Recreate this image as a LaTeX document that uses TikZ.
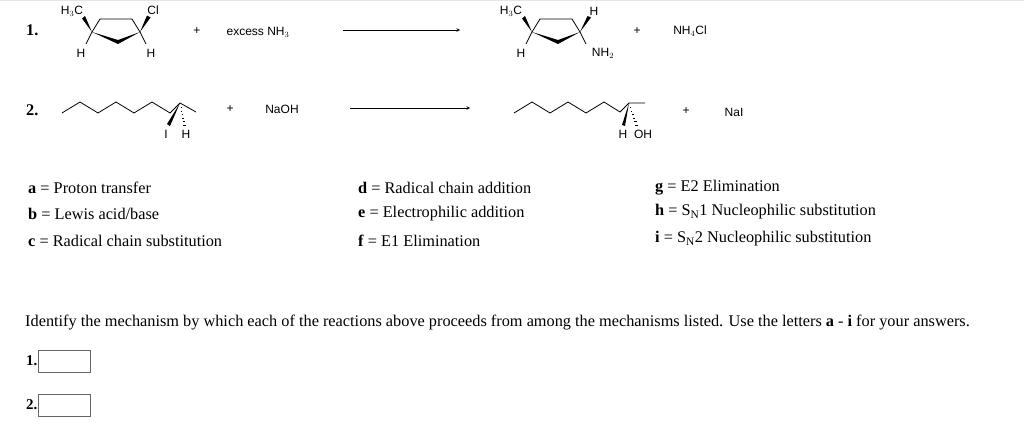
\documentclass[tikz,border=0pt]{standalone}
\usepackage{fontspec}
\setmainfont{Liberation Serif}
\setsansfont{Liberation Sans}
\usetikzlibrary{calc}
\begin{document}
\begin{tikzpicture}[x=1pt,y=-1pt,
  lab/.style={font=\sffamily\fontsize{12}{14}\selectfont,inner sep=0.5pt},
  txt/.style={font=\fontsize{16.3}{18}\selectfont,anchor=west,inner sep=0},
  bnd/.style={line width=0.8pt},
  box/.style={draw=black!60,minimum width=52pt,minimum height=22pt,inner sep=0}]
\useasboundingbox (0,0) rectangle (1024,439);
\draw[black!10] (0,0.5)--(1024,0.5);
% ---- reaction 1
\node[txt,font=\bfseries\fontsize{16.3}{18}\selectfont] (n1) at (26,30) {1.};
\foreach \dx/\nm in {0/a,440/b}{
 \coordinate (\nm L) at (92+\dx,32); \coordinate (\nm TL) at (100+\dx,19);
 \coordinate (\nm TR) at (132+\dx,19); \coordinate (\nm R) at (140+\dx,32);
 \coordinate (\nm B) at (118+\dx,42);
 \draw[bnd] (\nm L)--(\nm TL)--(\nm TR)--(\nm R);
 \fill (\nm L)--($(\nm B)+(0,-2)$)--($(\nm B)+(0,2)$)--cycle;
 \fill (\nm R)--($(\nm B)+(0,-2)$)--($(\nm B)+(0,2)$)--cycle;
 \fill (\nm L)--(82+\dx,18.5)--(85+\dx,16)--cycle;
 \draw[bnd] (\nm L)--(86+\dx,44);
}
\node[lab] (ch3a) at (72,11) {H$_3$C};
\node[lab] (cla) at (153,10) {Cl};
\fill (aR)--(147,15.5)--(150.5,17.5)--cycle;
\draw[bnd] (aR)--(146,44);
\node[lab] (ha1) at (81,53) {H};
\node[lab] (ha2) at (151,53) {H};
\node[lab] (p1) at (197,31) {+};
\node[lab] (nh3) at (258,32) {excess NH$_3$};
\coordinate (r1s) at (343,30); \coordinate (r1e) at (460,30);
\draw[-stealth,line width=0.6pt] (r1s)--(r1e);
\node[lab] (ch3b) at (511,11) {H$_3$C};
\node[lab] (hb0) at (594,11) {H};
\fill (bR)--(587.5,16)--(591,17.5)--cycle;
\draw[bnd] (bR)--(586,44);
\node[lab] (hb1) at (521,53) {H};
\node[lab] (nh2) at (603,53) {NH$_2$};
\node[lab] (p2) at (637,31) {+};
\node[lab] (nh4) at (690,31) {NH$_4$Cl};
% ---- reaction 2
\node[txt,font=\bfseries\fontsize{16.3}{18}\selectfont] (n2) at (26,110) {2.};
\draw[bnd] (62,113)--(80,102)--(98,113)--(116,102)--(134,113)--(152,102)--(170,113)--(180,103)--(196,112);
\coordinate (sa) at (180,103);
\fill (sa)--(167,124)--(170,126)--cycle;
\foreach \t in {0.2,0.35,0.5,0.65,0.8,0.95}{
 \draw[line width=0.5pt] ($(sa)!\t!(185,126)+(-1.6*\t,0)$)--($(sa)!\t!(185,126)+(1.6*\t,0)$);}
\node[lab] (ia) at (166,134) {I};
\node[lab] (ha) at (186,134) {H};
\node[lab] (p3) at (230,109) {+};
\node[lab] (naoh) at (282,109) {NaOH};
\coordinate (r2s) at (350,108); \coordinate (r2e) at (470,108);
\draw[-stealth,line width=0.6pt] (r2s)--(r2e);
\draw[bnd] (514,113)--(532,102)--(550,113)--(568,102)--(586,113)--(604,102)--(620,112)--(629,103)--(645,103);
\coordinate (sb) at (629,103);
\fill (sb)--(622,125)--(625,126)--cycle;
\foreach \t in {0.2,0.35,0.5,0.65,0.8,0.95}{
 \draw[line width=0.5pt] ($(sb)!\t!(637,126)+(-1.6*\t,0)$)--($(sb)!\t!(637,126)+(1.6*\t,0)$);}
\node[lab] (hb) at (623,134) {H};
\node[lab] (oh) at (643,134) {OH};
\node[lab] (p4) at (686,111) {+};
\node[lab] (nai) at (734,112) {NaI};
% ---- mechanisms
\node[txt] (ma) at (28,188) {\textbf{a} = Proton transfer};
\node[txt] (mb) at (28,214) {\textbf{b} = Lewis acid/base};
\node[txt] (mc) at (28,241) {\textbf{c} = Radical chain substitution};
\node[txt] (md) at (358,188) {\textbf{d} = Radical chain addition};
\node[txt] (me) at (358,214) {\textbf{e} = Electrophilic addition};
\node[txt] (mf) at (358,241) {\textbf{f} = E1 Elimination};
\node[txt] (mg) at (655,188) {\textbf{g} = E2 Elimination};
\node[txt] (mh) at (655,212) {\textbf{h} = S$_{\mathrm{N}}$1 Nucleophilic substitution};
\node[txt] (mi) at (655,239) {\textbf{i} = S$_{\mathrm{N}}$2 Nucleophilic substitution};
\node[txt] (q) at (25,323) {Identify the mechanism by which each of the reactions above proceeds from among the mechanisms listed. Use the letters \textbf{a} - \textbf{i} for your answers.};
\node[txt,font=\bfseries\fontsize{15}{18}\selectfont] (l1) at (26,361) {1.};
\node[box] (b1) at (64,361) {};
\node[txt,font=\bfseries\fontsize{15}{18}\selectfont] (l2) at (26,405) {2.};
\node[box] (b2) at (64,405) {};
\end{tikzpicture}
\end{document}
